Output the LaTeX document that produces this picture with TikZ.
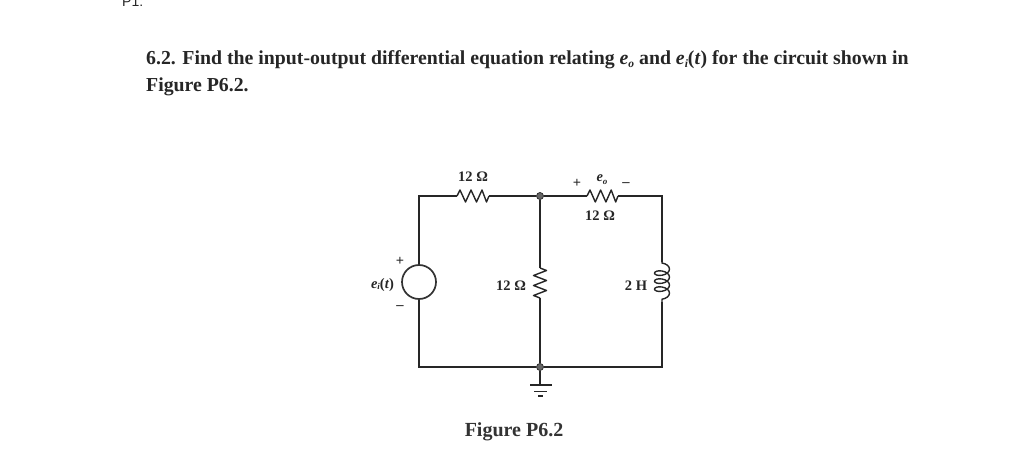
\documentclass[tikz,border=0pt]{standalone}
\usepackage{fontspec}
\setmainfont{Liberation Serif}
\newfontfamily\labelsans{Liberation Sans}
\usetikzlibrary{decorations.pathmorphing}
\tikzset{
  wire/.style={line width=1.9pt,draw=black!85},
  thin wire/.style={line width=1.4pt,draw=black!85},
  junction/.style={circle,fill=black!60,draw=black!85,line width=.7pt,inner sep=0pt,minimum size=7pt},
  source/.style={circle,draw=black!80,line width=1.7pt,fill=white,inner sep=0pt,minimum size=34pt},
  para/.style={anchor=base west,inner sep=0pt,font=\fontsize{19.8}{21}\selectfont\bfseries,text=black!85},
  lab/.style={anchor=base,inner sep=0pt,font=\fontsize{14.5}{16}\selectfont\bfseries,text=black!85},
  caption/.style={anchor=base,inner sep=0pt,font=\fontsize{20}{22}\selectfont\bfseries,text=black!80},
  zig/.style={thin wire,line join=round},
  coilpath/.style={thin wire,decorate,decoration={coil,segment length=8pt,amplitude=7.5pt,aspect=0.55,pre length=1pt,post length=1pt}}
}
\begin{document}
\begin{tikzpicture}[x=1pt,y=-1pt]
\useasboundingbox (0,0) rectangle (1024,465);
\clip (0,0) rectangle (1024,465);
% text
\node[anchor=base west,inner sep=0pt,font=\labelsans\fontsize{14}{15}\selectfont,text=black!85] (head) at (122,7) {P1:};
\node[para] (l1) at (146,65) {6.2. Find the input-output differential equation relating \textit{e\raisebox{-2.5pt}{\fontsize{11.5}{12}\selectfont o}} and \textit{e\raisebox{-2.5pt}{\fontsize{11.5}{12}\selectfont i}}(\textit{t}) for the circuit shown in};
\node[para] (l2) at (146,92) {Figure P6.2.};
% named points
\coordinate (tl) at (419,196);
\coordinate (bl) at (419,367);
\coordinate (tr) at (662,196);
\coordinate (br) at (662,367);
\coordinate (r1a) at (457,196);
\coordinate (r1b) at (489,196);
\coordinate (r2a) at (587,196);
\coordinate (r2b) at (618,196);
\coordinate (r3a) at (540,268);
\coordinate (r3b) at (540,298);
\coordinate (la) at (662,262);
\coordinate (lb) at (662,302);
\coordinate (g) at (540,385);
% wires
\node[source] (vs) at (419,282) {};
\node[junction] (nt) at (540,196) {};
\node[junction] (nb) at (540,367) {};
\draw[wire] (vs.north) -- (tl) -- (r1a);
\draw[wire] (r1b) -- (nt) -- (r2a);
\draw[wire] (r2b) -- (tr) -- (la);
\draw[wire] (vs.south) -- (bl) -- (nb) -- (br) -- (lb);
\draw[wire] (nt) -- (r3a);
\draw[wire] (r3b) -- (nb) -- (g);
% resistors
\draw[zig] (r1a) -- ++(3,-6) -- ++(5.5,12) -- ++(5.5,-12) -- ++(5.5,12) -- ++(5.5,-12) -- ++(4.5,12) -- (r1b);
\draw[zig] (r2a) -- ++(3,-6) -- ++(5.3,12) -- ++(5.3,-12) -- ++(5.3,12) -- ++(5.3,-12) -- ++(4.5,12) -- (r2b);
\draw[zig] (r3a) -- ++(6.5,2.5) -- ++(-13,5) -- ++(13,5) -- ++(-13,5) -- ++(13,5) -- ++(-13,5) -- (r3b);
% inductor
\draw[coilpath] (la) -- (lb);
% ground
\draw[wire] (530,385) -- (552,385);
\draw[thin wire] (534,391.5) -- (547,391.5);
\draw[thin wire] (538,396) -- (543,396);
% labels
\node[lab] (t1) at (473,182) {12 Ω};
\node[lab] (t2) at (600,220) {12 Ω};
\node[lab] (t3) at (511,290) {12 Ω};
\node[lab] (t4) at (636,290) {2 H};
\node[lab] (p1) at (577,187) {+};
\node[lab] (p2) at (626,186) {–};
\node[lab] (eo) at (602,182) {\textit{e\raisebox{-2pt}{\fontsize{9}{9}\selectfont o}}};
\node[lab] (ei) at (382.5,288) {\textit{e\raisebox{-1.5pt}{\fontsize{9}{9}\selectfont i}}(\textit{t})};
\node[lab] (p3) at (400,265) {+};
\node[lab] (p4) at (400,309) {–};
\node[caption] (cap) at (514,436) {Figure P6.2};
\end{tikzpicture}
\end{document}
